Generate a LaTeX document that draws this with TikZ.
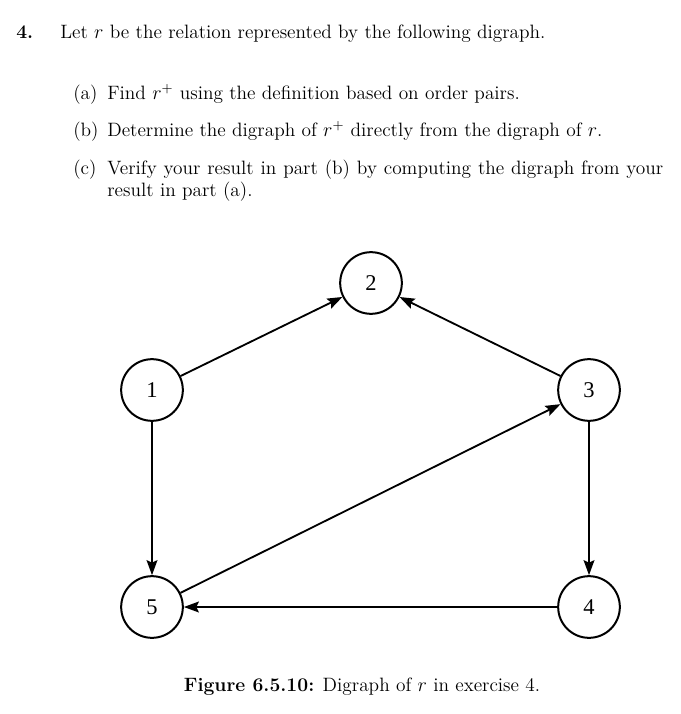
\documentclass[tikz,border=0pt]{standalone}
\usepackage{fontspec}
\newfontfamily\vertfont{Liberation Serif}
\usetikzlibrary{positioning,arrows.meta}
\tikzset{vert/.style={circle, draw, line width=1.2pt, minimum size=37pt, inner sep=0pt, font=\vertfont\fontsize{13.5}{13.5}\selectfont}}
\tikzset{arr/.style={draw, line width=1.1pt, -{Stealth[length=9pt,width=6.5pt,inset=1.5pt]}}}
\tikzset{txt/.style={anchor=base west, inner sep=0pt, font=\fontsize{11.6}{14}\selectfont}}

\begin{document}
\begin{tikzpicture}[x=0.6pt,y=-0.6pt]
	\useasboundingbox (0,0) rectangle (680,714);
	% question text
	\node[txt, font=\fontsize{11.6}{14}\selectfont\bfseries] (num) at (16,39) {4.};
	\node[txt] (q) at (60,39) {Let $r$ be the relation represented by the following digraph.};
	\node[txt] (la) at (73,100) {(a)};
	\node[txt] (pa) at (107,100) {Find $r^+$ using the definition based on order pairs.};
	\node[txt] (lb) at (73,137) {(b)};
	\node[txt] (pb) at (107,137) {Determine the digraph of $r^+$ directly from the digraph of $r$.};
	\node[txt] (lc) at (73,175) {(c)};
	\node[txt] (pc) at (107,175)
		{\makebox[333.6pt][s]{Verify your result in part (b) by computing the digraph from your}};
	\node[txt] (pc2) at (107,197) {result in part (a).};
	% digraph
	\node[vert] (v1) at (152,390) {1};
	\node[vert] (v2) at (371,283) {2};
	\node[vert] (v3) at (589,390) {3};
	\node[vert] (v4) at (589,607) {4};
	\node[vert] (v5) at (152,607) {5};
	\draw[arr] (v1) -- (v2);
	\draw[arr] (v3) -- (v2);
	\draw[arr] (v1) -- (v5);
	\draw[arr] (v5) -- (v3);
	\draw[arr] (v3) -- (v4);
	\draw[arr] (v4) -- (v5);
	\node[anchor=base, inner sep=0pt, font=\fontsize{11.6}{14}\selectfont] (cap) at (362,691)
		{\textbf{Figure 6.5.10:} Digraph of $r$ in exercise 4.};
\end{tikzpicture}
\end{document}
